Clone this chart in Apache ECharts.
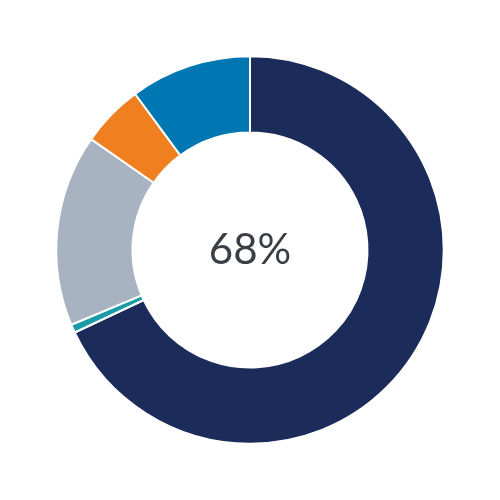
<!DOCTYPE html>
<html lang="en">
<head>
    <meta charset="UTF-8">
    <title>Donut</title>
    <script src="https://cdn.jsdelivr.net/npm/echarts@6/dist/echarts.min.js"></script>
    <style>html,body{margin:0;padding:0;background:#fff;}</style>
</head>
<body>
<div id="main" style="width: 500px;height:500px;"></div>
<script type="text/javascript">
    var names = ['A', 'B', 'C', 'D', 'E'];
    var values = [68, 0.7, 16, 5.2, 10.1];
    var colors = ['#1b2b5a', '#1a9ba8', '#a8b3c2', '#f07f1f', '#0077b3'];
    var centerText = '68%';

    var myChart = echarts.init(document.getElementById('main'));
    var data = names.map(function (n, i) {
        return {name: n, value: values[i], itemStyle: {color: colors[i]}};
    });
    var option = {
        animation: false,
        title: {
            text: centerText,
            left: 'center',
            top: 'middle',
            textStyle: {fontFamily: 'Lato', fontSize: 42, fontWeight: 'normal', color: '#3a3f46'}
        },
        series: [
            {
                type: 'pie',
                radius: ['47%', '77.5%'],
                center: ['50%', '50%'],
                startAngle: 90,
                clockwise: true,
                label: {show: false},
                labelLine: {show: false},
                itemStyle: {borderColor: '#fff', borderWidth: 2},
                data: data
            }
        ]
    };
    myChart.setOption(option);
</script>
</body>
</html>
